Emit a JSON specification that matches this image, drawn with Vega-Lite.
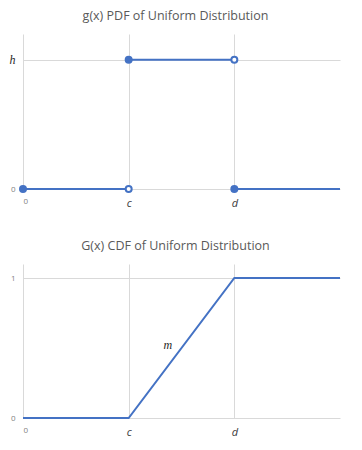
{
  "$schema": "https://vega.github.io/schema/vega-lite/v6.json",
  "background": "white",
  "padding": {"left": 9, "top": 9, "right": 14, "bottom": 5},
  "spacing": 31,
  "datasets": {
    "pdf_lines": [
      {"seg": "a", "x": 0, "y": 0},
      {"seg": "a", "x": 1, "y": 0},
      {"seg": "b", "x": 1, "y": 1},
      {"seg": "b", "x": 2, "y": 1},
      {"seg": "c", "x": 2, "y": 0},
      {"seg": "c", "x": 3, "y": 0}
    ],
    "pdf_points": [
      {"x": 0, "y": 0, "state": "closed"},
      {"x": 1, "y": 0, "state": "open"},
      {"x": 1, "y": 1, "state": "closed"},
      {"x": 2, "y": 1, "state": "open"},
      {"x": 2, "y": 0, "state": "closed"}
    ],
    "cdf": [
      {"x": 0, "y": 0},
      {"x": 1, "y": 0},
      {"x": 2, "y": 1},
      {"x": 3, "y": 1}
    ],
    "cdf_label": [
      {"x": 1.37, "y": 0.52, "label": "m"}
    ]
  },
  "config": {
    "font": "Open Sans",
    "view": {"stroke": null},
    "title": {"fontSize": 12.5, "fontWeight": "normal", "color": "#595959", "offset": 12, "font": "Open Sans", "anchor": "middle", "dx": -6},
    "axis": {"gridColor": "#d9d9d9", "gridWidth": 1, "domain": false, "ticks": false, "title": null, "labelColor": "#7f7f7f", "labelFontSize": 8}
  },
  "vconcat": [
    {
      "title": "g(x) PDF of Uniform Distribution",
      "width": 317,
      "height": 155,
      "layer": [
        {
          "data": {"name": "pdf_lines"},
          "mark": {"type": "line", "color": "#4472C4", "strokeWidth": 2},
          "encoding": {
            "x": {"field": "x", "type": "quantitative", "scale": {"domain": [0, 3], "nice": false},
              "axis": {"values": [0, 1, 2], "labelExpr": "datum.value == 0 ? '0' : (datum.value == 1 ? 'c' : 'd')", "labelPadding": 8,
                "labelFontStyle": {"condition": {"test": "datum.value == 0", "value": "normal"}, "value": "italic"},
                "labelFontSize": {"condition": {"test": "datum.value == 0", "value": 8}, "value": 11},
                "labelColor": {"condition": {"test": "datum.value == 0", "value": "#7f7f7f"}, "value": "#404040"}}},
            "y": {"field": "y", "type": "quantitative", "scale": {"domain": [0, 1.2], "nice": false},
              "axis": {"values": [0, 1], "labelExpr": "datum.value == 0 ? '0' : 'h'", "labelPadding": 8,
                "labelFont": {"condition": {"test": "datum.value == 0", "value": "Open Sans"}, "value": "Liberation Serif"},
                "labelFontStyle": {"condition": {"test": "datum.value == 0", "value": "normal"}, "value": "italic"},
                "labelFontSize": {"condition": {"test": "datum.value == 0", "value": 8}, "value": 12},
                "labelColor": {"condition": {"test": "datum.value == 0", "value": "#7f7f7f"}, "value": "#262626"}}},
            "detail": {"field": "seg", "type": "nominal"}
          }
        },
        {
          "data": {"name": "pdf_points"},
          "mark": {"type": "point", "filled": true, "size": 36, "stroke": "#4472C4", "strokeWidth": 2, "opacity": 1},
          "encoding": {
            "x": {"field": "x", "type": "quantitative"},
            "y": {"field": "y", "type": "quantitative"},
            "fill": {"field": "state", "type": "nominal", "scale": {"domain": ["closed", "open"], "range": ["#4472C4", "white"]}, "legend": null}
          }
        }
      ]
    },
    {
      "title": "G(x) CDF of Uniform Distribution",
      "width": 317,
      "height": 154,
      "layer": [
        {
          "data": {"name": "cdf"},
          "mark": {"type": "line", "color": "#4472C4", "strokeWidth": 2},
          "encoding": {
            "x": {"field": "x", "type": "quantitative", "scale": {"domain": [0, 3], "nice": false},
              "axis": {"values": [0, 1, 2], "labelExpr": "datum.value == 0 ? '0' : (datum.value == 1 ? 'c' : 'd')", "labelPadding": 8,
                "labelFontStyle": {"condition": {"test": "datum.value == 0", "value": "normal"}, "value": "italic"},
                "labelFontSize": {"condition": {"test": "datum.value == 0", "value": 8}, "value": 11},
                "labelColor": {"condition": {"test": "datum.value == 0", "value": "#7f7f7f"}, "value": "#404040"}}},
            "y": {"field": "y", "type": "quantitative", "scale": {"domain": [0, 1.1], "nice": false},
              "axis": {"values": [0, 1], "format": "d", "labelPadding": 8}}
          }
        },
        {
          "data": {"name": "cdf_label"},
          "mark": {"type": "text", "font": "Liberation Serif", "fontStyle": "italic", "fontSize": 12, "color": "#262626"},
          "encoding": {
            "x": {"field": "x", "type": "quantitative"},
            "y": {"field": "y", "type": "quantitative"},
            "text": {"field": "label"}
          }
        }
      ]
    }
  ]
}
